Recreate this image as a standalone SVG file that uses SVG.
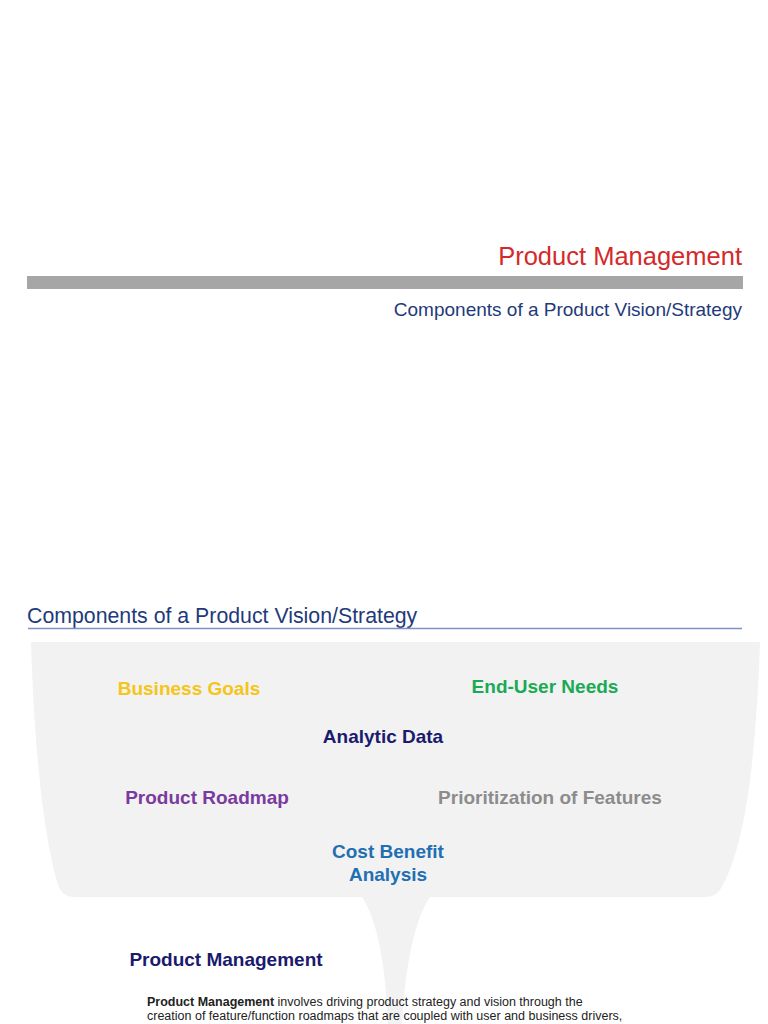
<svg xmlns="http://www.w3.org/2000/svg" width="768" height="1024" viewBox="0 0 768 1024">
<style>
.h{font-family:"Liberation Sans",Arial,sans-serif}
.b{font-family:"Liberation Sans",Arial,sans-serif;font-weight:bold;font-size:19px;text-anchor:middle}
</style>
<rect width="768" height="1024" fill="#fff"/>
<text class="h" x="742" y="265" font-size="25.5" fill="#d42a2a" text-anchor="end">Product Management</text>
<rect x="27" y="276" width="716" height="13" fill="#a6a6a6"/>
<text class="h" x="742" y="316" font-size="19" fill="#1f3a7a" text-anchor="end">Components of a Product Vision/Strategy</text>
<text class="h" x="27" y="623" font-size="21.3" fill="#1f3a7a">Components of a Product Vision/Strategy</text>
<line x1="28" y1="628.5" x2="742" y2="628.5" stroke="#8090c8" stroke-width="1.5"/>
<g id="funnel">
<path d="M31 642 L760 642 C756 760 745 850 720 890 Q715 897 705 897 L430 897 C414 920 405 970 402 1024 L388 1024 C386 970 378 920 362 897 L75 897 Q62 897 58 885 C42 830 34 740 31 642 Z" fill="#f2f2f2"/>
</g>
<g id="business-goals"><text class="b" x="189" y="695" fill="#f5c518">Business Goals</text></g>
<g id="end-user-needs"><text class="b" x="545" y="693" fill="#1aaa55">End-User Needs</text></g>
<g id="analytic-data"><text class="b" x="383" y="743" fill="#1a1a6e">Analytic Data</text></g>
<g id="product-roadmap"><text class="b" x="207" y="804" fill="#7a3aa0">Product Roadmap</text></g>
<g id="prioritization"><text class="b" x="550" y="804" fill="#8c8c8c">Prioritization of Features</text></g>
<g id="cost-benefit"><text class="b" x="388" y="858" fill="#1f6fb2">Cost Benefit</text><text class="b" x="388" y="881" fill="#1f6fb2">Analysis</text></g>
<g id="connectors"></g>
<g id="product-management"><text class="b" x="226" y="966" fill="#1a1a6e" font-size="19.5">Product Management</text></g>
<text class="h" x="147" y="1006" font-size="12.5" fill="#222"><tspan font-weight="bold">Product Management</tspan> involves driving product strategy and vision through the</text>
<text class="h" x="147" y="1020" font-size="12.5" fill="#222">creation of feature/function roadmaps that are coupled with user and business drivers,</text>
</svg>
